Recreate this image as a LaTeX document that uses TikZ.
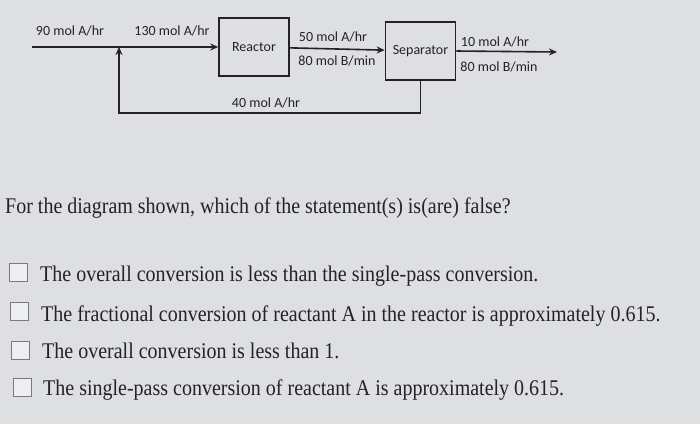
\documentclass[tikz,border=0pt]{standalone}
\usepackage{fontspec}
\setmainfont{Liberation Serif}
\newfontfamily\labelfont{Carlito}
\usetikzlibrary{arrows.meta}
\definecolor{screen}{RGB}{221,223,225}
\definecolor{ink}{RGB}{35,35,38}
\tikzset{
	unit/.style={draw=ink, line width=1.6pt, minimum width=70pt, minimum height=58pt, inner sep=0pt, font=\labelfont\fontsize{14}{16}\selectfont, text=ink},
	stream/.style={draw=ink, line width=1.6pt, -{Stealth[length=8pt,width=7pt]}},
	flow/.style={font=\labelfont\fontsize{14}{16}\selectfont, text=ink, inner sep=0pt},
	stmt/.style={anchor=base west, font=\fontsize{20}{24}\selectfont, text=ink, inner sep=0pt, yscale=1.12, transform shape},
	tick/.style={draw=ink!60, line width=1pt, fill=white!50!screen, minimum size=18pt, inner sep=0pt}
}

\begin{document}
\begin{tikzpicture}[x=1pt,y=-1pt]
			%%%%% START %%%%%
			\fill[screen] (0,0) rectangle (700,424);
			
			\node[unit] (reactor) at (254,47) {Reactor};
			\node[unit] (separator) at (420.5,51) {Separator};
			
			\coordinate (feed) at (32,47);
			\coordinate (mix) at (119,47);
			\coordinate (turn) at (119,113);
			\coordinate (product) at (557,52);
			
			\draw[stream] (feed) -- (reactor);
			\draw[stream] (reactor) -- (separator);
			\draw[stream] (separator.east) -- (product);
			\draw[stream] (separator.south) |- (turn) -- (mix);
			
			\node[flow] (freshA) at (70,31) {90 mol A/hr};
			\node[flow] (inletA) at (172,31) {130 mol A/hr};
			\node[flow] (recycleA) at (266,103) {40 mol A/hr};
			\node[flow] (outA) at (333,37) {50 mol A/hr};
			\node[flow] (outB) at (337,61) {80 mol B/min};
			\node[flow] (prodA) at (495,42) {10 mol A/hr};
			\node[flow] (prodB) at (499,67) {80 mol B/min};
			
			\node[stmt] (question) at (5,213) {For the diagram shown, which of the statement(s) is(are) false?};
			
			\node[tick] (box1) at (18,272) {};
			\node[stmt] (opt1) at (40,281) {The overall conversion is less than the single-pass conversion.};
			\node[tick] (box2) at (19,311) {};
			\node[stmt] (opt2) at (41,321) {The fractional conversion of reactant A in the reactor is approximately 0.615.};
			\node[tick] (box3) at (20,350) {};
			\node[stmt] (opt3) at (42,358) {The overall conversion is less than 1.};
			\node[tick] (box4) at (22,387) {};
			\node[stmt] (opt4) at (43,395) {The single-pass conversion of reactant A is approximately 0.615.};
			%%%%% END %%%%%
		\end{tikzpicture}
\end{document}
